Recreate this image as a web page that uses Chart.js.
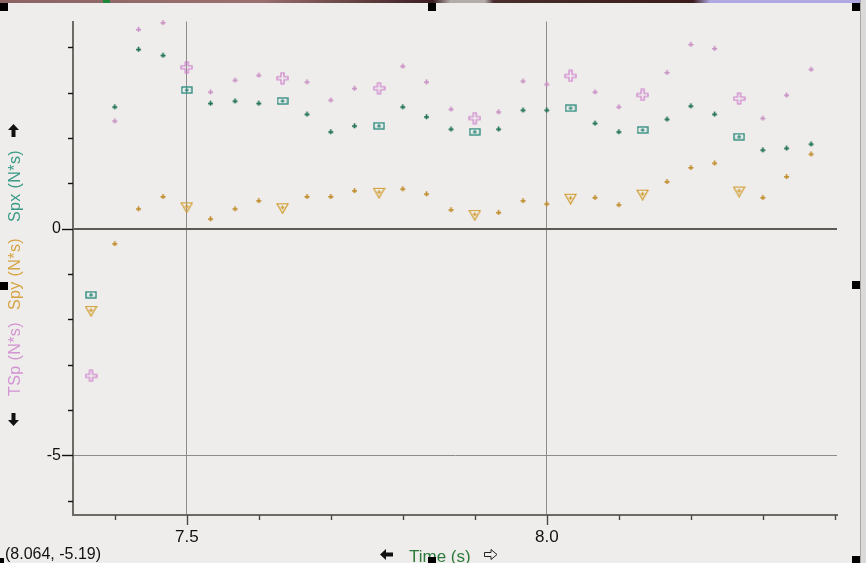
<!DOCTYPE html>
<html>
<head>
<meta charset="utf-8">
<script src="https://cdn.jsdelivr.net/npm/chart.js@4"></script>
<style>
  html, body { margin: 0; padding: 0; background: #efedeb; overflow: hidden; }
  #wrap { position: relative; width: 866px; height: 563px; }
  #graph { position: absolute; left: 0; top: 0; }
  .lbl { position: absolute; font-family: 'Liberation Sans', Arial, sans-serif; white-space: nowrap; }
  .ytitle { font-size: 16px; letter-spacing: 0.4px; transform: translate(-50%, -50%) rotate(-90deg); }
  .handle { position: absolute; width: 8px; height: 8px; background: #000; }
</style>
</head>
<body>
<div id="wrap">
  <canvas id="graph" width="866" height="563"></canvas>

  <!-- window strip along the top -->
  <div style="position:absolute;left:0;top:0;width:866px;height:3px;background:linear-gradient(90deg,#8c6464 0%,#9a6f70 30%,#3a1e20 50%,#b4aca8 52%,#b4aca8 56%,#4a2e2e 57%,#3a1c1c 80%,#b0a8e0 82%,#b0a8e0 100%);"></div>
  <div style="position:absolute;left:103px;top:0;width:7px;height:3px;background:#1c8a3a;"></div>
  <!-- right window edge -->
  <div style="position:absolute;left:860px;top:0;width:6px;height:563px;background:#dcdad8;border-left:1px solid #a9a7a5;"></div>

  <div class="handle" style="left:0;top:3px;"></div>
  <div class="handle" style="left:428px;top:3px;"></div>
  <div class="handle" style="left:852px;top:3px;"></div>
  <div class="handle" style="left:0;top:282px;"></div>
  <div class="handle" style="left:852px;top:281px;"></div>
  <div class="handle" style="left:0;top:558px;width:4px;"></div>
  <div class="handle" style="left:852px;top:556px;"></div>

  <!-- y axis titles -->
  <div class="lbl ytitle" style="left:15px;top:186px;color:#3a9a86;">Spx (N*s)</div>
  <div class="lbl ytitle" style="left:15px;top:274px;color:#d6a444;">Spy (N*s)</div>
  <div class="lbl ytitle" style="left:15px;top:359px;color:#d294d2;">TSp (N*s)</div>
  <svg style="position:absolute;left:8px;top:124px;" width="11" height="13"><polygon points="5.5,0 11,6 7.5,6 7.5,13 3.5,13 3.5,6 0,6" fill="#111"/></svg>
  <svg style="position:absolute;left:8px;top:413px;" width="11" height="13"><polygon points="5.5,13 11,7 7.5,7 7.5,0 3.5,0 3.5,7 0,7" fill="#111"/></svg>

  <!-- bottom texts -->
  <div class="lbl" style="left:5px;top:545px;font-size:16px;color:#111;">(8.064, -5.19)</div>
  <svg style="position:absolute;left:380px;top:549px;" width="13" height="11"><polygon points="0,5.5 6,0 6,3.5 13,3.5 13,7.5 6,7.5 6,11" fill="#111"/></svg>
  <div class="lbl" style="left:409px;top:547px;font-size:17px;color:#2a7a3a;">Time (s)</div>
  <svg style="position:absolute;left:484px;top:549px;" width="14" height="11"><polygon points="13,5.5 7,0.5 7,3.5 0.5,3.5 0.5,7.5 7,7.5 7,10.5" fill="none" stroke="#222" stroke-width="1"/></svg>
  <div class="handle" style="left:428px;top:557px;"></div>
</div>

<script>
// sample times (s)
const times = [7.367, 7.400, 7.433, 7.467, 7.500, 7.533, 7.567, 7.600, 7.633, 7.667,
               7.700, 7.733, 7.767, 7.800, 7.833, 7.867, 7.900, 7.933, 7.967, 8.000,
               8.033, 8.067, 8.100, 8.133, 8.167, 8.200, 8.233, 8.267, 8.300, 8.333, 8.367];
// impulse components (N*s)
const spx = [-1.46, 2.69, 3.96, 3.83, 3.06, 2.77, 2.82, 2.77, 2.82, 2.53,
             2.14, 2.27, 2.27, 2.69, 2.47, 2.20, 2.14, 2.20, 2.62, 2.62,
             2.66, 2.33, 2.14, 2.18, 2.42, 2.71, 2.53, 2.03, 1.74, 1.78, 1.87];
const spy = [-1.82, -0.33, 0.44, 0.71, 0.47, 0.22, 0.44, 0.62, 0.45, 0.71,
             0.71, 0.84, 0.79, 0.88, 0.77, 0.42, 0.30, 0.36, 0.62, 0.55,
             0.66, 0.69, 0.53, 0.75, 1.04, 1.35, 1.45, 0.82, 0.69, 1.15, 1.65];
const tsp = [-3.25, 2.38, 4.40, 4.55, 3.56, 3.02, 3.28, 3.39, 3.32, 3.24,
             2.84, 3.10, 3.10, 3.59, 3.24, 2.64, 2.44, 2.58, 3.26, 3.19,
             3.37, 3.02, 2.69, 2.95, 3.45, 4.07, 3.98, 2.87, 2.44, 2.95, 3.52];
// points that carry the big marker
const marked = [0, 4, 8, 12, 16, 20, 23, 27];
// labelled ticks
const xLabels = [7.5, 8.0];
const yLabels = [0, -5];

function makeCanvas(w, h, draw) {
  const c = document.createElement('canvas');
  c.width = w; c.height = h;
  draw(c.getContext('2d'));
  return c;
}

function smallPlus(color) {
  return makeCanvas(7, 7, function (g) {
    g.fillStyle = color;
    g.fillRect(1, 3, 5, 1.6);
    g.fillRect(2.7, 1, 1.6, 5);
  });
}

const sxSmall = smallPlus('#1b6f52');
const sySmall = smallPlus('#c08c2c');
const tsSmall = smallPlus('#c890c4');

// Spx: box with a plus inside
const sxBig = makeCanvas(12, 8, function (g) {
  g.strokeStyle = '#24877a';
  g.lineWidth = 1.3;
  g.strokeRect(1, 1, 10, 6);
  g.fillStyle = '#24877a';
  g.fillRect(4, 3.5, 4, 1.2);
  g.fillRect(5.4, 2.2, 1.2, 3.6);
});

// Spy: downward triangle with a plus inside
const syBig = makeCanvas(13, 12, function (g) {
  g.strokeStyle = '#cf9a2a';
  g.lineWidth = 1.2;
  g.beginPath();
  g.moveTo(1, 1.5); g.lineTo(12, 1.5); g.lineTo(6.5, 11);
  g.closePath();
  g.stroke();
  g.fillStyle = '#cf9a2a';
  g.fillRect(4.5, 4.6, 4, 1.2);
  g.fillRect(5.9, 3.2, 1.2, 4);
});

// TSp: hollow cross
const tsBig = makeCanvas(13, 13, function (g) {
  g.strokeStyle = '#cc7ccc';
  g.lineWidth = 1.2;
  g.beginPath();
  g.moveTo(5, 1); g.lineTo(8, 1); g.lineTo(8, 5); g.lineTo(12, 5);
  g.lineTo(12, 8); g.lineTo(8, 8); g.lineTo(8, 12); g.lineTo(5, 12);
  g.lineTo(5, 8); g.lineTo(1, 8); g.lineTo(1, 5); g.lineTo(5, 5);
  g.closePath();
  g.stroke();
});

function series(values, small, big) {
  return {
    data: times.map((t, i) => ({ x: t, y: values[i] })),
    showLine: false,
    clip: false,
    pointRadius: 3,
    pointStyle: ctx => marked.includes(ctx.dataIndex) ? big : small
  };
}

function near(v, list) {
  return list.some(l => Math.abs(v - l) < 1e-6);
}

// tick marks drawn on the outside of both axes
const tickMarks = {
  id: 'tickMarks',
  afterDraw(chart) {
    const ctx = chart.ctx;
    const x = chart.scales.x, y = chart.scales.y;
    const area = chart.chartArea;
    ctx.save();
    ctx.strokeStyle = '#4a4642';
    ctx.lineWidth = 1.4;
    x.ticks.forEach(t => {
      const px = Math.round(x.getPixelForValue(t.value)) + 0.5;
      ctx.beginPath();
      ctx.moveTo(px, area.bottom);
      ctx.lineTo(px, area.bottom + (near(t.value, xLabels) ? 10 : 5));
      ctx.stroke();
    });
    ctx.strokeStyle = '#111';
    y.ticks.forEach(t => {
      const py = Math.round(y.getPixelForValue(t.value)) + 0.5;
      ctx.beginPath();
      ctx.moveTo(area.left, py);
      ctx.lineTo(area.left - (near(t.value, yLabels) ? 11 : 5), py);
      ctx.stroke();
    });
    ctx.restore();
  }
};

new Chart(document.getElementById('graph').getContext('2d'), {
  type: 'scatter',
  data: {
    datasets: [
      series(tsp, tsSmall, tsBig),
      series(spy, sySmall, syBig),
      series(spx, sxSmall, sxBig)
    ]
  },
  options: {
    responsive: false,
    animation: false,
    events: [],
    layout: { padding: { top: 20, right: 29, left: 0, bottom: 0 } },
    plugins: { legend: { display: false }, tooltip: { enabled: false } },
    scales: {
      x: {
        type: 'linear',
        min: 7.342,
        max: 8.403,
        afterFit: s => { s.height = 48; },
        border: { color: '#6e6a66', width: 2 },
        grid: {
          drawTicks: false,
          color: c => near(c.tick.value, xLabels) ? '#8e8c8a' : 'rgba(0,0,0,0)',
          lineWidth: 1
        },
        ticks: {
          stepSize: 0.1,
          includeBounds: false,
          autoSkip: false,
          maxRotation: 0,
          padding: 12,
          color: '#111',
          font: { family: "'Liberation Sans', Arial, sans-serif", size: 17 },
          callback: v => near(v, xLabels) ? v.toFixed(1) : ''
        }
      },
      y: {
        type: 'linear',
        min: -6.32,
        max: 4.57,
        afterFit: s => { s.width = 73; },
        border: { color: '#6e6a66', width: 2 },
        grid: {
          drawTicks: false,
          color: c => c.tick.value === 0 ? '#5e5a56' : (c.tick.value === -5 ? '#8e8c8a' : 'rgba(0,0,0,0)'),
          lineWidth: c => c.tick.value === 0 ? 2 : 1
        },
        ticks: {
          stepSize: 1,
          includeBounds: false,
          autoSkip: false,
          padding: 12,
          color: '#111',
          font: { family: "'Liberation Sans', Arial, sans-serif", size: 16 },
          callback: v => near(v, yLabels) ? String(v) : ''
        }
      }
    }
  },
  plugins: [tickMarks]
});
</script>
</body>
</html>
